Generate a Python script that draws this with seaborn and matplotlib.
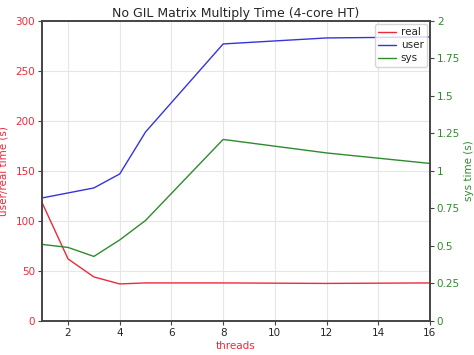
import matplotlib
matplotlib.use("Agg")
import matplotlib.pyplot as plt
import matplotlib.ticker as mticker
import pandas as pd
import seaborn as sns

# thread counts and timings
threads = [1, 2, 3, 4, 5, 8, 12, 16]
real = [118, 62, 44, 37, 38, 38, 37.5, 38]
user = [123, 128, 133, 147, 189, 277, 283, 284]
sys_time = [0.51, 0.49, 0.43, 0.54, 0.67, 1.21, 1.12, 1.05]

df = pd.DataFrame({"threads": threads, "real": real, "user": user, "sys": sys_time})

sns.set_style("whitegrid")
plt.rcParams['font.family'] = ['DejaVu Sans']

red = "#ee2a3a"
blue = "#3535d8"
green = "#2e8b2e"

fig, ax = plt.subplots(figsize=(4.74, 3.55), dpi=100)
ax2 = ax.twinx()

sns.lineplot(x="threads", y="real", data=df, ax=ax, color=red, linewidth=1, label="real", legend=False)
sns.lineplot(x="threads", y="user", data=df, ax=ax, color=blue, linewidth=1, label="user", legend=False)
sns.lineplot(x="threads", y="sys", data=df, ax=ax2, color=green, linewidth=1, label="sys", legend=False)

ax.set_xlim(1, 16)
ax.set_ylim(0, 300)
ax2.set_ylim(0, 2)
ax.set_xticks([2, 4, 6, 8, 10, 12, 14, 16])
ax.set_yticks([0, 50, 100, 150, 200, 250, 300])
ax2.set_yticks([0, 0.25, 0.5, 0.75, 1, 1.25, 1.5, 1.75, 2])
ax2.yaxis.set_major_formatter(mticker.FormatStrFormatter('%g'))

ax.grid(True, color="#e6e6e6", linewidth=0.8)
ax2.grid(False)

for a in (ax, ax2):
    for s in a.spines.values():
        s.set_color("#444444")
        s.set_linewidth(1.2)
    a.tick_params(axis="both", labelsize=7.5, length=3, width=0.8, color="#444444", pad=2)
    a.tick_params(axis="both", which="major", direction="out")

ax.tick_params(axis="y", labelcolor=red, left=True)
ax.tick_params(axis="x", bottom=True)
ax2.tick_params(axis="y", labelcolor=green, right=True)

ax.set_xlabel("threads", color=red, fontsize=7.5, labelpad=2)
ax.set_ylabel("user/real time (s)", color=red, fontsize=7.5, labelpad=5)
ax2.set_ylabel("sys time (s)", color=green, fontsize=7.5, labelpad=3)
ax.set_title("No GIL Matrix Multiply Time (4-core HT)", fontsize=9, pad=3)

h1, l1 = ax.get_legend_handles_labels()
h2, l2 = ax2.get_legend_handles_labels()
ax2.legend(h1 + h2, l1 + l2, loc="upper right", fontsize=7.5, frameon=True,
           borderaxespad=0.3, handlelength=1.7, labelspacing=0.3,
           borderpad=0.3, handletextpad=0.5)

fig.subplots_adjust(left=0.089, right=0.907, top=0.941, bottom=0.096)
fig.savefig("out.png", dpi=100)
